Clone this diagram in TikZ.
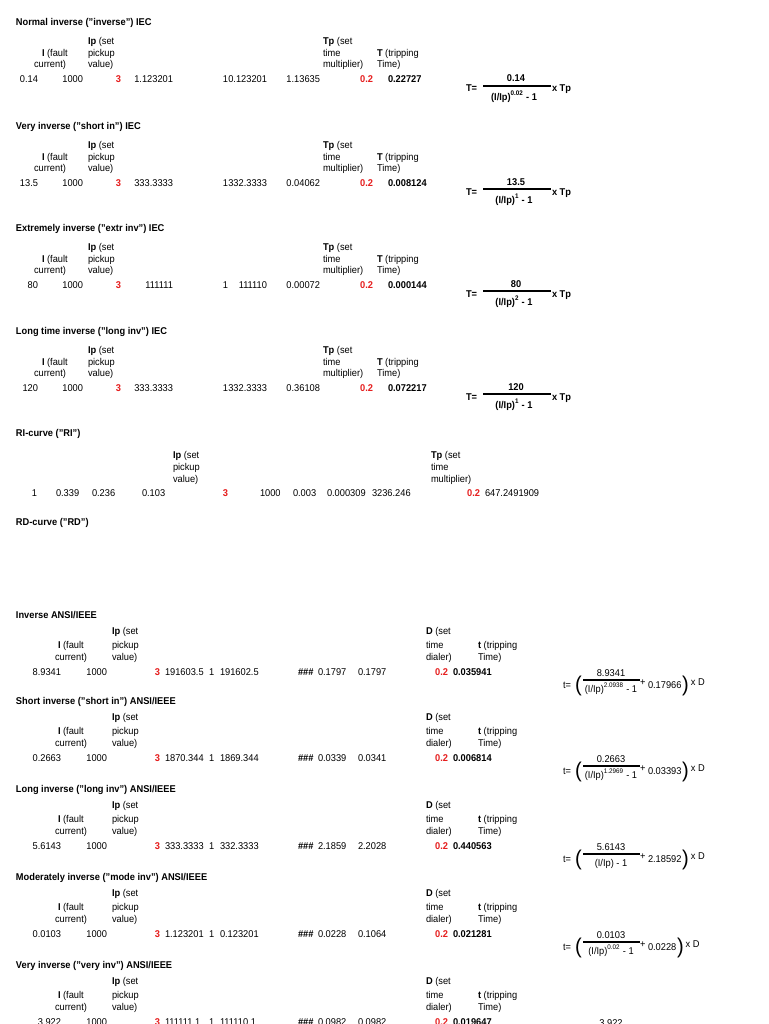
\documentclass[tikz,border=0pt]{standalone}
\usepackage{fontspec}
\setmainfont[FakeStretch=0.94]{Liberation Sans}
\usetikzlibrary{positioning}

\definecolor{cellred}{RGB}{230,30,30}
\newcounter{cellno}
% one text cell at a baseline point
\newcommand{\cell}[3][base west]{\stepcounter{cellno}\node[cell, anchor=#1] (c\arabic{cellno}) at (#2) {#3};}
\newcommand{\redv}[1]{\textcolor{cellred}{\textbf{#1}}}

% IEC block: y, title, a, col4, col7, col6, T, exponent
\newcommand{\iecblock}[8]{
  \cell{16,{#1+4}}{\textbf{#2}}
  \cell{88,{#1+23}}{\textbf{Ip} (set}
  \cell{42,{#1+35}}{\textbf{I} (fault}
  \cell{88,{#1+35}}{pickup}
  \cell{34,{#1+46}}{current)}
  \cell{88,{#1+46}}{value)}
  \cell{323,{#1+23}}{\textbf{Tp} (set}
  \cell{323,{#1+35}}{time}
  \cell{377,{#1+35}}{\textbf{T} (tripping}
  \cell{323,{#1+46}}{multiplier)}
  \cell{377,{#1+46}}{Time)}
  \cell[base east]{38,{#1+61}}{#3}
  \cell[base east]{83,{#1+61}}{1000}
  \cell[base east]{121,{#1+61}}{\redv{3}}
  \cell[base east]{173,{#1+61}}{#4}
  \cell[base east]{228,{#1+61}}{1}
  \cell[base east]{267,{#1+61}}{#6}
  \cell[base east]{320,{#1+61}}{#5}
  \cell[base east]{373,{#1+61}}{\redv{0.2}}
  \cell{388,{#1+61}}{\textbf{#7}}
  % formula
  \cell{466,{#1+70}}{\textbf{T=}}
  \cell[base]{516,{#1+60}}{\textbf{#3}}
  \cell[base]{514,{#1+78}}{\textbf{(I/Ip)\textsuperscript{\tiny #8} - 1}}
  \draw[fracbar] (483,{#1+64}) -- (551,{#1+64});
  \cell{552,{#1+70}}{\textbf{x Tp}}
}

% ANSI block: y, title, a, col4, col6, col8, col9, t, denominator
\newcommand{\ansiblock}[9]{
  \cell{16,{#1+4}}{\textbf{#2}}
  \cell{112,{#1+20}}{\textbf{Ip} (set}
  \cell{58,{#1+34}}{\textbf{I} (fault}
  \cell{112,{#1+34}}{pickup}
  \cell{55,{#1+46}}{current)}
  \cell{112,{#1+46}}{value)}
  \cell{426,{#1+20}}{\textbf{D} (set}
  \cell{426,{#1+34}}{time}
  \cell{478,{#1+34}}{\textbf{t} (tripping}
  \cell{426,{#1+46}}{dialer)}
  \cell{478,{#1+46}}{Time)}
  \cell[base east]{61,{#1+61}}{#3}
  \cell[base east]{107,{#1+61}}{1000}
  \cell[base east]{160,{#1+61}}{\redv{3}}
  \cell{165,{#1+61}}{#4}
  \cell{209,{#1+61}}{1}
  \cell{220,{#1+61}}{#5}
  \cell{298,{#1+61}}{\textbf{\#\#\#}}
  \cell{318,{#1+61}}{#6}
  \cell{358,{#1+61}}{#7}
  \cell[base east]{448,{#1+61}}{\redv{0.2}}
  \cell{453,{#1+61}}{\textbf{#8}}
  % formula
  \cell{563,{#1+74}}{t=}
  \cell[base]{611,{#1+62}}{#3}
  \draw[fracbar] (583,{#1+66}) -- (640,{#1+66});
  \cell[base]{611,{#1+78}}{#9}
}
\newcommand{\ansitail}[2]{
  \node[cell, anchor=base west] (b\arabic{cellno}) at (575,{#1+77}) {\fontsize{16}{16}\selectfont(};
  \node[cell, anchor=base west] (p\arabic{cellno}) at (640,{#1+71}) {+};
  \node[cell, anchor=base west] (v\arabic{cellno}) at (648,{#1+74}) {#2};
  \node[cell, anchor=base west] (q\arabic{cellno}) at ([xshift=0.5pt]v\arabic{cellno}.east |- 0,{#1+77}) {\fontsize{16}{16}\selectfont)};
  \node[cell, right=2pt of v\arabic{cellno}.east, xshift=5pt, anchor=base west, yshift=-1pt] (d\arabic{cellno}) {x D};
}

\begin{document}
\begin{tikzpicture}[x=0.75pt, y=-0.75pt,
    cell/.style={inner sep=0pt, outer sep=0pt, font=\fontsize{7.4}{8}\selectfont},
    fracbar/.style={line width=1pt}
]
\useasboundingbox[fill=white] (0,0) rectangle (768,1024);

% IEC curves
\iecblock{22}{Normal inverse ("inverse") IEC}{0.14}{1.123201}{1.13635}{0.123201}{0.22727}{0.02}
\iecblock{125}{Very inverse ("short in") IEC}{13.5}{333.3333}{0.04062}{332.3333}{0.008124}{1}
\iecblock{227}{Extremely inverse ("extr inv") IEC}{80}{111111}{0.00072}{111110}{0.000144}{2}
\iecblock{330}{Long time inverse ("long inv") IEC}{120}{333.3333}{0.36108}{332.3333}{0.072217}{1}

% RI and RD curves
\cell{16,436}{\textbf{RI-curve ("RI")}}
\cell{173,458}{\textbf{Ip} (set}
\cell{173,470}{pickup}
\cell{173,482}{value)}
\cell{431,458}{\textbf{Tp} (set}
\cell{431,470}{time}
\cell{431,482}{multiplier)}
\cell[base east]{37,496}{1}
\cell{56,496}{0.339}
\cell{92,496}{0.236}
\cell{142,496}{0.103}
\cell[base east]{228,496}{\redv{3}}
\cell{260,496}{1000}
\cell{293,496}{0.003}
\cell{327,496}{0.000309}
\cell{372,496}{3236.246}
\cell[base east]{480,496}{\redv{0.2}}
\cell{485,496}{647.2491909}
\cell{16,525}{\textbf{RD-curve ("RD")}}

% ANSI/IEEE curves
\ansiblock{614}{Inverse ANSI/IEEE}{8.9341}{191603.5}{191602.5}{0.1797}{0.1797}{0.035941}{(I/Ip)\textsuperscript{\tiny 2.0938} - 1}
\ansitail{614}{0.17966}
\ansiblock{700}{Short inverse ("short in") ANSI/IEEE}{0.2663}{1870.344}{1869.344}{0.0339}{0.0341}{0.006814}{(I/Ip)\textsuperscript{\tiny 1.2969} - 1}
\ansitail{700}{0.03393}
\ansiblock{788}{Long inverse ("long inv") ANSI/IEEE}{5.6143}{333.3333}{332.3333}{2.1859}{2.2028}{0.440563}{(I/Ip) - 1}
\ansitail{788}{2.18592}
\ansiblock{876}{Moderately inverse ("mode inv") ANSI/IEEE}{0.0103}{1.123201}{0.123201}{0.0228}{0.1064}{0.021281}{(I/Ip)\textsuperscript{\tiny 0.02} - 1}
\ansitail{876}{0.0228}
\ansiblock{964}{Very inverse ("very inv") ANSI/IEEE}{3.922}{111111.1}{111110.1}{0.0982}{0.0982}{0.019647}{(I/Ip)\textsuperscript{\tiny 2} - 1}
\ansitail{964}{0.0982}
\end{tikzpicture}
\end{document}
